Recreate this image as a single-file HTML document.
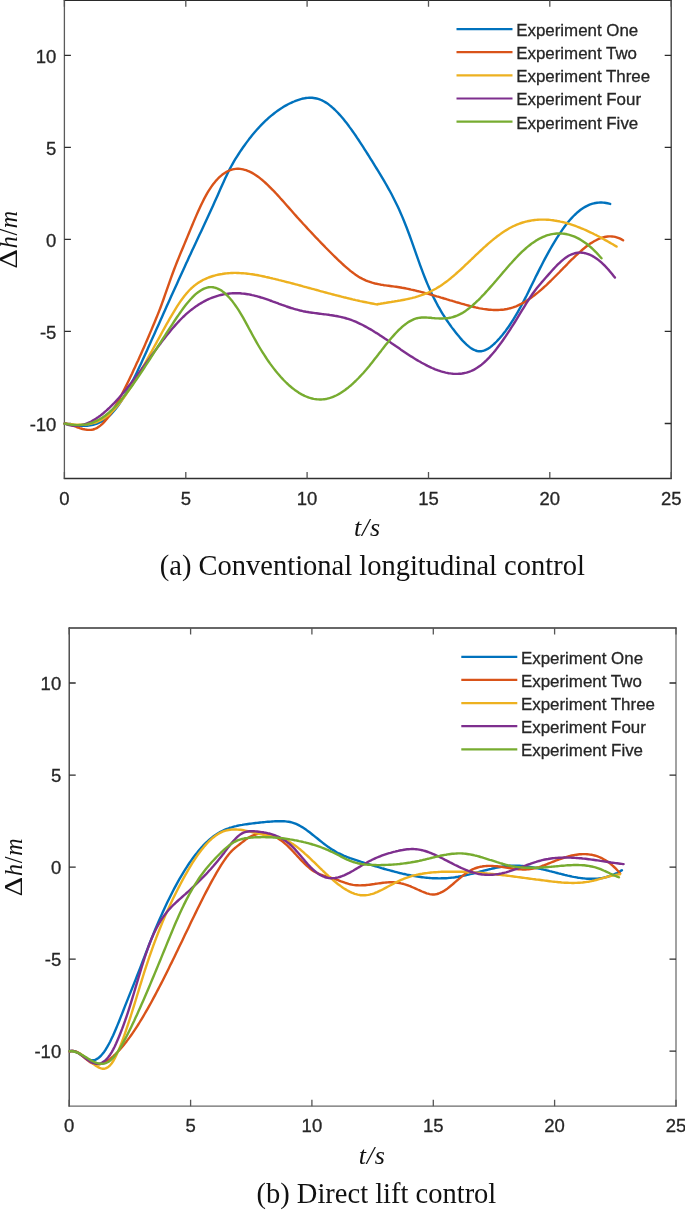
<!DOCTYPE html><html><head><meta charset="utf-8"><style>html,body{margin:0;padding:0;background:#fff;width:685px;height:1211px;overflow:hidden}svg{display:block}</style></head><body>
<svg width="685" height="1211" viewBox="0 0 685 1211">
<rect width="685" height="1211" fill="#fff"/>
<g><path d="M64.4,-0.3V479.1" stroke="#5a5a5a" stroke-width="1.3"/>
<path d="M671.2,-0.3V479.1" stroke="#353535" stroke-width="1.3"/>
<path d="M63.8,0.3H671.8" stroke="#2a2a2a" stroke-width="1.3"/>
<path d="M63.8,478.5H671.8" stroke="#303030" stroke-width="1.3"/>
<path d="M64.4,478.5V472.0M64.4,0.3V6.8M185.8,478.5V472.0M185.8,0.3V6.8M307.1,478.5V472.0M307.1,0.3V6.8M428.5,478.5V472.0M428.5,0.3V6.8M549.8,478.5V472.0M549.8,0.3V6.8M671.2,478.5V472.0M671.2,0.3V6.8" stroke="#555555" stroke-width="1.3" fill="none"/>
<path d="M64.4,423.5H70.9M671.2,423.5H664.7M64.4,331.4H70.9M671.2,331.4H664.7M64.4,239.4H70.9M671.2,239.4H664.7M64.4,147.4H70.9M671.2,147.4H664.7M64.4,55.3H70.9M671.2,55.3H664.7" stroke="#2c2c2c" stroke-width="1.3" fill="none"/>
<g font-family="Liberation Sans, Arial, sans-serif" font-size="18.5" fill="#262626" stroke="#262626" stroke-width="0.3">
<text x="64.4" y="504.7" text-anchor="middle">0</text>
<text x="185.8" y="504.7" text-anchor="middle">5</text>
<text x="307.1" y="504.7" text-anchor="middle">10</text>
<text x="428.5" y="504.7" text-anchor="middle">15</text>
<text x="549.8" y="504.7" text-anchor="middle">20</text>
<text x="671.2" y="504.7" text-anchor="middle">25</text>
<text x="56.4" y="430.7" text-anchor="end">-10</text>
<text x="56.4" y="338.6" text-anchor="end">-5</text>
<text x="56.4" y="246.6" text-anchor="end">0</text>
<text x="56.4" y="154.6" text-anchor="end">5</text>
<text x="56.4" y="62.5" text-anchor="end">10</text>
</g>
<g transform="translate(17.1,268.7) rotate(-90)" font-family="Liberation Serif, Times New Roman, serif" font-size="25.5" fill="#111"><text transform="scale(1.2,1)">Δ</text><text transform="translate(20.4,0) scale(0.94,1)" letter-spacing="0.8"><tspan font-style="italic">h</tspan>/<tspan font-style="italic">m</tspan></text></g>
<text x="367.5" y="536.0" text-anchor="middle" font-family="Liberation Serif, Times New Roman, serif" font-size="26" letter-spacing="0.8" font-style="italic" fill="#111">t/s</text>
<g font-family="Liberation Sans, Arial, sans-serif" font-size="16.9" fill="#262626">
<path d="M456.5,29.1H512.5" stroke="#0072BD" stroke-width="2.2"/>
<text x="516.2" y="35.9" stroke="#262626" stroke-width="0.3">Experiment One</text>
<path d="M456.5,52.2H512.5" stroke="#D95319" stroke-width="2.2"/>
<text x="516.2" y="59.0" stroke="#262626" stroke-width="0.3">Experiment Two</text>
<path d="M456.5,75.4H512.5" stroke="#EDB120" stroke-width="2.2"/>
<text x="516.2" y="82.2" stroke="#262626" stroke-width="0.3">Experiment Three</text>
<path d="M456.5,98.5H512.5" stroke="#7E2F8E" stroke-width="2.2"/>
<text x="516.2" y="105.3" stroke="#262626" stroke-width="0.3">Experiment Four</text>
<path d="M456.5,121.7H512.5" stroke="#77AC30" stroke-width="2.2"/>
<text x="516.2" y="128.5" stroke="#262626" stroke-width="0.3">Experiment Five</text>
</g></g>
<g fill="none" stroke-width="2.40" stroke-linejoin="round" stroke-linecap="round">
<path stroke="#0072BD" d="M64.6,423.6L66.1,423.8 67.6,424.1 69.1,424.3 70.6,424.6 72.1,424.8 73.6,425.0 75.1,425.2 76.6,425.4 78.1,425.5 79.6,425.7 81.1,425.7 82.6,425.8 84.1,425.8 85.6,425.8 87.1,425.7 88.6,425.5 90.1,425.3 91.6,425.1 93.1,424.8 94.6,424.4 96.1,423.9 97.6,423.3 99.1,422.7 100.6,422.0 102.1,421.2 103.6,420.2 105.1,419.2 106.6,418.1 108.1,416.9 109.6,415.6 111.1,414.1 112.6,412.5 114.1,410.8 115.6,409.0 117.1,407.1 118.6,405.0 120.1,402.8 121.6,400.5 123.1,398.1 124.6,395.6 126.1,393.1 127.6,390.4 129.1,387.7 130.6,384.8 132.1,381.9 133.6,379.0 135.1,376.0 136.6,372.9 138.1,369.7 139.6,366.6 141.1,363.4 142.6,360.1 144.1,356.8 145.6,353.5 147.1,350.2 148.6,346.8 150.1,343.5 151.6,340.1 153.1,336.8 154.6,333.4 156.1,330.1 157.6,326.7 159.1,323.4 160.6,320.0 162.1,316.7 163.6,313.3 165.1,310.0 166.6,306.6 168.1,303.3 169.6,300.0 171.1,296.6 172.6,293.3 174.1,290.0 175.6,286.7 177.1,283.4 178.6,280.1 180.1,276.8 181.6,273.5 183.1,270.2 184.6,266.9 186.1,263.6 187.6,260.4 189.1,257.1 190.6,253.9 192.1,250.6 193.6,247.4 195.1,244.2 196.6,241.0 198.1,237.8 199.6,234.6 201.1,231.4 202.6,228.2 204.1,225.0 205.6,221.7 207.1,218.5 208.6,215.3 210.1,212.0 211.6,208.7 213.1,205.4 214.6,202.1 216.1,198.8 217.6,195.4 219.1,192.0 220.6,188.6 222.1,185.2 223.6,181.9 225.1,178.6 226.6,175.4 228.1,172.3 229.6,169.4 231.1,166.5 232.6,163.8 234.1,161.2 235.6,158.7 237.1,156.3 238.6,154.0 240.1,151.7 241.6,149.5 243.1,147.3 244.6,145.2 246.1,143.1 247.6,141.1 249.1,139.1 250.6,137.2 252.1,135.3 253.6,133.5 255.1,131.7 256.6,130.0 258.1,128.4 259.6,126.7 261.1,125.1 262.6,123.6 264.1,122.1 265.6,120.7 267.1,119.3 268.6,117.9 270.1,116.6 271.6,115.4 273.1,114.2 274.6,113.0 276.1,111.9 277.6,110.8 279.1,109.7 280.6,108.7 282.1,107.8 283.6,106.8 285.1,105.9 286.6,105.1 288.1,104.3 289.6,103.5 291.1,102.8 292.6,102.1 294.1,101.5 295.6,100.8 297.1,100.3 298.6,99.8 300.1,99.3 301.6,98.9 303.1,98.5 304.6,98.3 306.1,98.0 307.6,97.9 309.1,97.8 310.6,97.8 312.1,97.8 313.6,98.0 315.1,98.2 316.6,98.5 318.1,98.9 319.6,99.4 321.1,100.0 322.6,100.7 324.1,101.5 325.6,102.4 327.1,103.3 328.6,104.4 330.1,105.6 331.6,106.8 333.1,108.1 334.6,109.5 336.1,111.0 337.6,112.5 339.1,114.1 340.6,115.8 342.1,117.5 343.6,119.3 345.1,121.2 346.6,123.1 348.1,125.0 349.6,127.1 351.1,129.1 352.6,131.2 354.1,133.4 355.6,135.5 357.1,137.8 358.6,140.0 360.1,142.3 361.6,144.6 363.1,146.9 364.6,149.3 366.1,151.6 367.6,154.0 369.1,156.4 370.6,158.8 372.1,161.2 373.6,163.7 375.1,166.1 376.6,168.5 378.1,170.9 379.6,173.4 381.1,175.9 382.6,178.4 384.1,180.9 385.6,183.5 387.1,186.1 388.6,188.8 390.1,191.5 391.6,194.3 393.1,197.2 394.6,200.2 396.1,203.2 397.6,206.3 399.1,209.6 400.6,212.9 402.1,216.4 403.6,220.0 405.1,223.7 406.6,227.5 408.1,231.5 409.6,235.5 411.1,239.7 412.6,243.9 414.1,248.1 415.6,252.4 417.1,256.7 418.6,260.9 420.1,265.1 421.6,269.2 423.1,273.2 424.6,277.0 426.1,280.8 427.6,284.4 429.1,287.8 430.6,291.2 432.1,294.4 433.6,297.5 435.1,300.4 436.6,303.3 438.1,306.1 439.6,308.7 441.1,311.3 442.6,313.8 444.1,316.2 445.6,318.5 447.1,320.7 448.6,322.9 450.1,325.0 451.6,327.1 453.1,329.1 454.6,331.0 456.1,332.9 457.6,334.8 459.1,336.6 460.6,338.4 462.1,340.1 463.6,341.7 465.1,343.2 466.6,344.6 468.1,345.9 469.6,347.1 471.1,348.2 472.6,349.1 474.1,349.9 475.6,350.5 477.1,351.0 478.6,351.2 480.1,351.3 481.6,351.2 483.1,350.8 484.6,350.4 486.1,349.7 487.6,348.9 489.1,347.9 490.6,346.9 492.1,345.7 493.6,344.4 495.1,343.0 496.6,341.5 498.1,339.9 499.6,338.3 501.1,336.5 502.6,334.7 504.1,332.8 505.6,330.9 507.1,328.8 508.6,326.7 510.1,324.5 511.6,322.2 513.1,319.8 514.6,317.4 516.1,314.9 517.6,312.3 519.1,309.7 520.6,307.0 522.1,304.2 523.6,301.3 525.1,298.4 526.6,295.5 528.1,292.4 529.6,289.4 531.1,286.3 532.6,283.3 534.1,280.2 535.6,277.1 537.1,274.1 538.6,271.1 540.1,268.1 541.6,265.2 543.1,262.3 544.6,259.4 546.1,256.6 547.6,253.9 549.1,251.2 550.6,248.5 552.1,245.9 553.6,243.4 555.1,240.9 556.6,238.4 558.1,236.1 559.6,233.8 561.1,231.6 562.6,229.4 564.1,227.3 565.6,225.3 567.1,223.4 568.6,221.5 570.1,219.8 571.6,218.1 573.1,216.5 574.6,215.0 576.1,213.6 577.6,212.2 579.1,211.0 580.6,209.8 582.1,208.8 583.6,207.8 585.1,206.9 586.6,206.1 588.1,205.4 589.6,204.7 591.1,204.2 592.6,203.7 594.1,203.3 595.6,203.0 597.1,202.8 598.6,202.6 600.1,202.5 601.6,202.5 603.1,202.6 604.6,202.7 606.1,203.0 607.6,203.3 609.1,203.6 610.2,203.9"/>
<path stroke="#D95319" d="M64.6,423.6L66.1,423.8 67.6,424.1 69.1,424.5 70.6,424.9 72.1,425.4 73.6,425.9 75.1,426.4 76.6,427.0 78.1,427.5 79.6,428.1 81.1,428.5 82.6,429.0 84.1,429.3 85.6,429.6 87.1,429.8 88.6,429.9 90.1,429.9 91.6,429.8 93.1,429.5 94.6,429.0 96.1,428.4 97.6,427.6 99.1,426.6 100.6,425.4 102.1,424.1 103.6,422.6 105.1,420.9 106.6,419.2 108.1,417.2 109.6,415.2 111.1,413.0 112.6,410.7 114.1,408.2 115.6,405.7 117.1,403.1 118.6,400.4 120.1,397.6 121.6,394.8 123.1,391.9 124.6,388.9 126.1,385.9 127.6,382.8 129.1,379.7 130.6,376.5 132.1,373.4 133.6,370.1 135.1,366.9 136.6,363.6 138.1,360.4 139.6,357.0 141.1,353.7 142.6,350.3 144.1,346.9 145.6,343.4 147.1,340.0 148.6,336.5 150.1,332.9 151.6,329.4 153.1,325.8 154.6,322.2 156.1,318.5 157.6,314.9 159.1,311.1 160.6,307.2 162.1,303.1 163.6,299.0 165.1,294.7 166.6,290.4 168.1,286.1 169.6,281.8 171.1,277.6 172.6,273.5 174.1,269.5 175.6,265.6 177.1,261.8 178.6,258.1 180.1,254.4 181.6,250.8 183.1,247.2 184.6,243.6 186.1,240.0 187.6,236.4 189.1,232.8 190.6,229.1 192.1,225.5 193.6,221.9 195.1,218.4 196.6,214.9 198.1,211.5 199.6,208.2 201.1,205.0 202.6,201.9 204.1,198.9 205.6,196.1 207.1,193.4 208.6,190.9 210.1,188.6 211.6,186.4 213.1,184.3 214.6,182.4 216.1,180.6 217.6,179.0 219.1,177.4 220.6,176.1 222.1,174.8 223.6,173.7 225.1,172.7 226.6,171.8 228.1,171.0 229.6,170.4 231.1,169.9 232.6,169.4 234.1,169.1 235.6,168.9 237.1,168.8 238.6,168.8 240.1,168.9 241.6,169.1 243.1,169.4 244.6,169.8 246.1,170.2 247.6,170.8 249.1,171.4 250.6,172.1 252.1,172.9 253.6,173.8 255.1,174.7 256.6,175.7 258.1,176.8 259.6,177.9 261.1,179.1 262.6,180.3 264.1,181.6 265.6,183.0 267.1,184.4 268.6,185.8 270.1,187.3 271.6,188.8 273.1,190.3 274.6,191.9 276.1,193.5 277.6,195.1 279.1,196.8 280.6,198.5 282.1,200.1 283.6,201.8 285.1,203.5 286.6,205.2 288.1,206.9 289.6,208.6 291.1,210.3 292.6,212.0 294.1,213.7 295.6,215.4 297.1,217.1 298.6,218.7 300.1,220.4 301.6,222.0 303.1,223.7 304.6,225.3 306.1,226.9 307.6,228.6 309.1,230.2 310.6,231.8 312.1,233.4 313.6,235.0 315.1,236.6 316.6,238.2 318.1,239.7 319.6,241.3 321.1,242.9 322.6,244.4 324.1,245.9 325.6,247.5 327.1,249.0 328.6,250.5 330.1,252.0 331.6,253.5 333.1,255.0 334.6,256.5 336.1,257.9 337.6,259.4 339.1,260.8 340.6,262.2 342.1,263.6 343.6,265.0 345.1,266.3 346.6,267.6 348.1,268.9 349.6,270.2 351.1,271.4 352.6,272.5 354.1,273.6 355.6,274.7 357.1,275.7 358.6,276.7 360.1,277.6 361.6,278.4 363.1,279.2 364.6,279.9 366.1,280.6 367.6,281.2 369.1,281.7 370.6,282.2 372.1,282.7 373.6,283.1 375.1,283.5 376.6,283.8 378.1,284.1 379.6,284.4 381.1,284.7 382.6,284.9 384.1,285.2 385.6,285.4 387.1,285.6 388.6,285.8 390.1,286.0 391.6,286.2 393.1,286.4 394.6,286.6 396.1,286.8 397.6,287.0 399.1,287.2 400.6,287.5 402.1,287.8 403.6,288.0 405.1,288.3 406.6,288.6 408.1,288.9 409.6,289.2 411.1,289.6 412.6,289.9 414.1,290.2 415.6,290.6 417.1,291.0 418.6,291.3 420.1,291.7 421.6,292.1 423.1,292.5 424.6,292.9 426.1,293.3 427.6,293.7 429.1,294.1 430.6,294.5 432.1,295.0 433.6,295.4 435.1,295.8 436.6,296.3 438.1,296.7 439.6,297.1 441.1,297.6 442.6,298.0 444.1,298.5 445.6,298.9 447.1,299.4 448.6,299.8 450.1,300.3 451.6,300.7 453.1,301.2 454.6,301.6 456.1,302.1 457.6,302.5 459.1,302.9 460.6,303.4 462.1,303.8 463.6,304.2 465.1,304.7 466.6,305.1 468.1,305.5 469.6,305.9 471.1,306.3 472.6,306.7 474.1,307.0 475.6,307.4 477.1,307.7 478.6,308.1 480.1,308.4 481.6,308.6 483.1,308.9 484.6,309.1 486.1,309.3 487.6,309.5 489.1,309.7 490.6,309.8 492.1,309.9 493.6,310.0 495.1,310.0 496.6,310.0 498.1,310.0 499.6,309.9 501.1,309.8 502.6,309.7 504.1,309.5 505.6,309.2 507.1,309.0 508.6,308.6 510.1,308.3 511.6,307.8 513.1,307.4 514.6,306.8 516.1,306.3 517.6,305.6 519.1,304.9 520.6,304.2 522.1,303.4 523.6,302.6 525.1,301.7 526.6,300.8 528.1,299.8 529.6,298.8 531.1,297.7 532.6,296.6 534.1,295.5 535.6,294.3 537.1,293.1 538.6,291.9 540.1,290.6 541.6,289.3 543.1,288.0 544.6,286.6 546.1,285.3 547.6,283.9 549.1,282.4 550.6,281.0 552.1,279.5 553.6,278.0 555.1,276.5 556.6,275.0 558.1,273.5 559.6,272.0 561.1,270.4 562.6,268.9 564.1,267.3 565.6,265.8 567.1,264.3 568.6,262.7 570.1,261.2 571.6,259.7 573.1,258.3 574.6,256.8 576.1,255.4 577.6,254.0 579.1,252.6 580.6,251.3 582.1,250.0 583.6,248.7 585.1,247.5 586.6,246.3 588.1,245.2 589.6,244.1 591.1,243.1 592.6,242.2 594.1,241.3 595.6,240.5 597.1,239.7 598.6,239.0 600.1,238.4 601.6,237.9 603.1,237.4 604.6,237.0 606.1,236.7 607.6,236.5 609.1,236.4 610.6,236.4 612.1,236.5 613.6,236.6 615.1,236.9 616.6,237.3 618.1,237.8 619.6,238.4 621.1,239.1 622.6,240.0 623.1,240.3"/>
<path stroke="#EDB120" d="M64.6,423.6L66.1,423.7 67.6,423.9 69.1,424.1 70.6,424.2 72.1,424.3 73.6,424.5 75.1,424.6 76.6,424.7 78.1,424.7 79.6,424.8 81.1,424.8 82.6,424.7 84.1,424.7 85.6,424.6 87.1,424.4 88.6,424.2 90.1,423.9 91.6,423.6 93.1,423.2 94.6,422.8 96.1,422.3 97.6,421.7 99.1,421.0 100.6,420.3 102.1,419.4 103.6,418.5 105.1,417.5 106.6,416.4 108.1,415.2 109.6,414.0 111.1,412.6 112.6,411.1 114.1,409.6 115.6,407.9 117.1,406.2 118.6,404.4 120.1,402.5 121.6,400.6 123.1,398.6 124.6,396.5 126.1,394.3 127.6,392.1 129.1,389.9 130.6,387.6 132.1,385.2 133.6,382.8 135.1,380.4 136.6,377.9 138.1,375.4 139.6,372.8 141.1,370.2 142.6,367.6 144.1,365.0 145.6,362.3 147.1,359.6 148.6,356.9 150.1,354.2 151.6,351.5 153.1,348.7 154.6,346.0 156.1,343.3 157.6,340.5 159.1,337.8 160.6,335.1 162.1,332.3 163.6,329.6 165.1,326.9 166.6,324.2 168.1,321.6 169.6,318.9 171.1,316.3 172.6,313.8 174.1,311.3 175.6,308.8 177.1,306.4 178.6,304.1 180.1,301.9 181.6,299.7 183.1,297.7 184.6,295.7 186.1,293.9 187.6,292.2 189.1,290.5 190.6,289.0 192.1,287.6 193.6,286.3 195.1,285.1 196.6,284.0 198.1,282.9 199.6,282.0 201.1,281.1 202.6,280.2 204.1,279.5 205.6,278.8 207.1,278.1 208.6,277.5 210.1,277.0 211.6,276.5 213.1,276.0 214.6,275.6 216.1,275.2 217.6,274.8 219.1,274.5 220.6,274.2 222.1,274.0 223.6,273.7 225.1,273.5 226.6,273.4 228.1,273.2 229.6,273.1 231.1,273.0 232.6,273.0 234.1,272.9 235.6,272.9 237.1,273.0 238.6,273.0 240.1,273.1 241.6,273.2 243.1,273.3 244.6,273.4 246.1,273.5 247.6,273.7 249.1,273.9 250.6,274.1 252.1,274.3 253.6,274.5 255.1,274.8 256.6,275.0 258.1,275.3 259.6,275.6 261.1,275.9 262.6,276.2 264.1,276.5 265.6,276.9 267.1,277.2 268.6,277.5 270.1,277.9 271.6,278.2 273.1,278.6 274.6,278.9 276.1,279.3 277.6,279.7 279.1,280.1 280.6,280.4 282.1,280.8 283.6,281.2 285.1,281.6 286.6,282.0 288.1,282.3 289.6,282.7 291.1,283.1 292.6,283.5 294.1,283.9 295.6,284.3 297.1,284.7 298.6,285.1 300.1,285.5 301.6,285.9 303.1,286.4 304.6,286.8 306.1,287.2 307.6,287.6 309.1,288.0 310.6,288.4 312.1,288.8 313.6,289.2 315.1,289.6 316.6,290.0 318.1,290.4 319.6,290.9 321.1,291.3 322.6,291.7 324.1,292.1 325.6,292.5 327.1,292.9 328.6,293.3 330.1,293.7 331.6,294.1 333.1,294.5 334.6,294.9 336.1,295.3 337.6,295.6 339.1,296.0 340.6,296.4 342.1,296.8 343.6,297.2 345.1,297.5 346.6,297.9 348.1,298.3 349.6,298.6 351.1,299.0 352.6,299.4 354.1,299.7 355.6,300.1 357.1,300.4 358.6,300.7 360.1,301.1 361.6,301.4 363.1,301.7 364.6,302.0 366.1,302.3 367.6,302.6 369.1,302.9 370.6,303.2 372.1,303.5 373.6,303.8 375.1,304.1 376.6,304.4 377.3,304.5 M377.3,304.3L378.8,304.0 380.3,303.8 381.8,303.5 383.3,303.3 384.8,303.0 386.3,302.8 387.8,302.5 389.3,302.3 390.8,302.1 392.3,301.8 393.8,301.6 395.3,301.3 396.8,301.1 398.3,300.8 399.8,300.6 401.3,300.3 402.8,300.0 404.3,299.7 405.8,299.4 407.3,299.1 408.8,298.8 410.3,298.4 411.8,298.1 413.3,297.7 414.8,297.3 416.3,296.8 417.8,296.4 419.3,295.9 420.8,295.4 422.3,294.9 423.8,294.3 425.3,293.7 426.8,293.1 428.3,292.5 429.8,291.8 431.3,291.1 432.8,290.3 434.3,289.5 435.8,288.7 437.3,287.8 438.8,286.9 440.3,286.0 441.8,285.0 443.3,283.9 444.8,282.8 446.3,281.7 447.8,280.6 449.3,279.4 450.8,278.2 452.3,276.9 453.8,275.7 455.3,274.4 456.8,273.0 458.3,271.7 459.8,270.3 461.3,269.0 462.8,267.6 464.3,266.2 465.8,264.7 467.3,263.3 468.8,261.9 470.3,260.5 471.8,259.0 473.3,257.6 474.8,256.2 476.3,254.7 477.8,253.3 479.3,251.9 480.8,250.5 482.3,249.1 483.8,247.7 485.3,246.4 486.8,245.0 488.3,243.7 489.8,242.4 491.3,241.1 492.8,239.9 494.3,238.6 495.8,237.5 497.3,236.3 498.8,235.2 500.3,234.1 501.8,233.0 503.3,232.0 504.8,231.0 506.3,230.1 507.8,229.2 509.3,228.3 510.8,227.5 512.3,226.7 513.8,226.0 515.3,225.3 516.8,224.7 518.3,224.1 519.8,223.5 521.3,223.0 522.8,222.5 524.3,222.1 525.8,221.7 527.3,221.3 528.8,221.0 530.3,220.7 531.8,220.4 533.3,220.2 534.8,220.0 536.3,219.9 537.8,219.7 539.3,219.6 540.8,219.6 542.3,219.6 543.8,219.6 545.3,219.6 546.8,219.7 548.3,219.8 549.8,219.9 551.3,220.1 552.8,220.2 554.3,220.5 555.8,220.7 557.3,221.0 558.8,221.2 560.3,221.6 561.8,221.9 563.3,222.2 564.8,222.6 566.3,223.0 567.8,223.5 569.3,223.9 570.8,224.4 572.3,224.9 573.8,225.4 575.3,225.9 576.8,226.5 578.3,227.1 579.8,227.7 581.3,228.3 582.8,228.9 584.3,229.5 585.8,230.2 587.3,230.9 588.8,231.6 590.3,232.3 591.8,233.0 593.3,233.7 594.8,234.5 596.3,235.2 597.8,236.0 599.3,236.8 600.8,237.6 602.3,238.4 603.8,239.2 605.3,240.1 606.8,240.9 608.3,241.7 609.8,242.6 611.3,243.5 612.8,244.3 614.3,245.2 615.8,246.1 616.6,246.6"/>
<path stroke="#7E2F8E" d="M64.6,423.5L66.1,424.1 67.6,424.6 69.1,425.0 70.6,425.3 72.1,425.5 73.6,425.7 75.1,425.7 76.6,425.7 78.1,425.6 79.6,425.4 81.1,425.1 82.6,424.8 84.1,424.4 85.6,423.9 87.1,423.3 88.6,422.7 90.1,422.0 91.6,421.3 93.1,420.4 94.6,419.5 96.1,418.6 97.6,417.6 99.1,416.5 100.6,415.4 102.1,414.2 103.6,413.0 105.1,411.7 106.6,410.4 108.1,409.0 109.6,407.6 111.1,406.1 112.6,404.6 114.1,403.1 115.6,401.5 117.1,399.9 118.6,398.2 120.1,396.5 121.6,394.8 123.1,393.0 124.6,391.2 126.1,389.4 127.6,387.5 129.1,385.6 130.6,383.7 132.1,381.8 133.6,379.9 135.1,377.9 136.6,375.9 138.1,373.9 139.6,371.9 141.1,369.9 142.6,367.8 144.1,365.8 145.6,363.7 147.1,361.7 148.6,359.6 150.1,357.6 151.6,355.5 153.1,353.4 154.6,351.4 156.1,349.4 157.6,347.4 159.1,345.3 160.6,343.4 162.1,341.4 163.6,339.4 165.1,337.5 166.6,335.6 168.1,333.7 169.6,331.9 171.1,330.1 172.6,328.3 174.1,326.6 175.6,324.9 177.1,323.2 178.6,321.6 180.1,320.0 181.6,318.5 183.1,317.0 184.6,315.6 186.1,314.2 187.6,312.9 189.1,311.6 190.6,310.4 192.1,309.2 193.6,308.1 195.1,307.0 196.6,305.9 198.1,304.9 199.6,304.0 201.1,303.1 202.6,302.2 204.1,301.4 205.6,300.6 207.1,299.8 208.6,299.1 210.1,298.5 211.6,297.9 213.1,297.3 214.6,296.8 216.1,296.3 217.6,295.8 219.1,295.4 220.6,295.0 222.1,294.7 223.6,294.4 225.1,294.1 226.6,293.9 228.1,293.7 229.6,293.5 231.1,293.4 232.6,293.3 234.1,293.2 235.6,293.2 237.1,293.2 238.6,293.3 240.1,293.3 241.6,293.5 243.1,293.6 244.6,293.8 246.1,294.0 247.6,294.2 249.1,294.4 250.6,294.7 252.1,295.1 253.6,295.4 255.1,295.8 256.6,296.2 258.1,296.6 259.6,297.0 261.1,297.5 262.6,297.9 264.1,298.4 265.6,298.9 267.1,299.4 268.6,299.9 270.1,300.5 271.6,301.0 273.1,301.6 274.6,302.1 276.1,302.7 277.6,303.2 279.1,303.8 280.6,304.3 282.1,304.9 283.6,305.4 285.1,305.9 286.6,306.5 288.1,307.0 289.6,307.5 291.1,308.0 292.6,308.4 294.1,308.9 295.6,309.3 297.1,309.7 298.6,310.1 300.1,310.5 301.6,310.8 303.1,311.2 304.6,311.5 306.1,311.8 307.6,312.0 309.1,312.3 310.6,312.5 312.1,312.7 313.6,312.9 315.1,313.1 316.6,313.3 318.1,313.5 319.6,313.7 321.1,313.9 322.6,314.1 324.1,314.3 325.6,314.4 327.1,314.6 328.6,314.8 330.1,315.1 331.6,315.3 333.1,315.5 334.6,315.8 336.1,316.0 337.6,316.3 339.1,316.6 340.6,316.9 342.1,317.3 343.6,317.6 345.1,318.0 346.6,318.5 348.1,318.9 349.6,319.4 351.1,319.9 352.6,320.5 354.1,321.1 355.6,321.7 357.1,322.4 358.6,323.1 360.1,323.8 361.6,324.5 363.1,325.3 364.6,326.1 366.1,326.9 367.6,327.7 369.1,328.6 370.6,329.4 372.1,330.3 373.6,331.2 375.1,332.2 376.6,333.1 378.1,334.1 379.6,335.1 381.1,336.0 382.6,337.0 384.1,338.0 385.6,339.1 387.1,340.1 388.6,341.1 390.1,342.1 391.6,343.2 393.1,344.2 394.6,345.2 396.1,346.3 397.6,347.3 399.1,348.3 400.6,349.4 402.1,350.4 403.6,351.4 405.1,352.4 406.6,353.4 408.1,354.4 409.6,355.4 411.1,356.4 412.6,357.3 414.1,358.3 415.6,359.2 417.1,360.1 418.6,361.0 420.1,361.8 421.6,362.7 423.1,363.5 424.6,364.3 426.1,365.1 427.6,365.9 429.1,366.6 430.6,367.3 432.1,368.0 433.6,368.6 435.1,369.3 436.6,369.8 438.1,370.4 439.6,370.9 441.1,371.4 442.6,371.8 444.1,372.2 445.6,372.6 447.1,372.9 448.6,373.2 450.1,373.4 451.6,373.6 453.1,373.8 454.6,373.9 456.1,373.9 457.6,373.9 459.1,373.8 460.6,373.7 462.1,373.5 463.6,373.2 465.1,372.9 466.6,372.6 468.1,372.1 469.6,371.6 471.1,371.0 472.6,370.3 474.1,369.6 475.6,368.7 477.1,367.8 478.6,366.8 480.1,365.8 481.6,364.6 483.1,363.3 484.6,362.0 486.1,360.6 487.6,359.1 489.1,357.6 490.6,355.9 492.1,354.2 493.6,352.5 495.1,350.7 496.6,348.8 498.1,346.8 499.6,344.8 501.1,342.8 502.6,340.7 504.1,338.5 505.6,336.4 507.1,334.1 508.6,331.9 510.1,329.6 511.6,327.2 513.1,324.9 514.6,322.5 516.1,320.1 517.6,317.6 519.1,315.2 520.6,312.7 522.1,310.2 523.6,307.8 525.1,305.3 526.6,302.9 528.1,300.5 529.6,298.2 531.1,296.0 532.6,293.8 534.1,291.7 535.6,289.7 537.1,287.8 538.6,286.0 540.1,284.2 541.6,282.4 543.1,280.7 544.6,279.0 546.1,277.3 547.6,275.6 549.1,273.9 550.6,272.2 552.1,270.5 553.6,268.9 555.1,267.3 556.6,265.7 558.1,264.2 559.6,262.8 561.1,261.4 562.6,260.1 564.1,258.9 565.6,257.8 567.1,256.8 568.6,255.8 570.1,255.0 571.6,254.4 573.1,253.8 574.6,253.3 576.1,253.0 577.6,252.8 579.1,252.6 580.6,252.6 582.1,252.7 583.6,252.9 585.1,253.2 586.6,253.6 588.1,254.1 589.6,254.7 591.1,255.3 592.6,256.1 594.1,257.0 595.6,258.0 597.1,259.0 598.6,260.1 600.1,261.4 601.6,262.7 603.1,264.1 604.6,265.5 606.1,267.1 607.6,268.7 609.1,270.4 610.6,272.2 612.1,274.0 613.6,275.9 614.9,277.6"/>
<path stroke="#77AC30" d="M64.6,423.6L66.1,423.9 67.6,424.2 69.1,424.4 70.6,424.6 72.1,424.8 73.6,424.9 75.1,425.0 76.6,425.1 78.1,425.1 79.6,425.0 81.1,424.9 82.6,424.8 84.1,424.6 85.6,424.4 87.1,424.1 88.6,423.7 90.1,423.3 91.6,422.8 93.1,422.3 94.6,421.7 96.1,421.0 97.6,420.3 99.1,419.5 100.6,418.7 102.1,417.7 103.6,416.7 105.1,415.7 106.6,414.5 108.1,413.3 109.6,412.0 111.1,410.6 112.6,409.2 114.1,407.7 115.6,406.2 117.1,404.6 118.6,402.9 120.1,401.2 121.6,399.4 123.1,397.6 124.6,395.7 126.1,393.8 127.6,391.8 129.1,389.8 130.6,387.8 132.1,385.7 133.6,383.6 135.1,381.4 136.6,379.3 138.1,377.1 139.6,374.8 141.1,372.6 142.6,370.3 144.1,368.0 145.6,365.7 147.1,363.4 148.6,361.1 150.1,358.8 151.6,356.4 153.1,354.1 154.6,351.7 156.1,349.4 157.6,347.0 159.1,344.7 160.6,342.3 162.1,340.0 163.6,337.6 165.1,335.3 166.6,333.0 168.1,330.7 169.6,328.4 171.1,326.1 172.6,323.8 174.1,321.5 175.6,319.3 177.1,317.0 178.6,314.9 180.1,312.7 181.6,310.6 183.1,308.5 184.6,306.5 186.1,304.6 187.6,302.7 189.1,301.0 190.6,299.3 192.1,297.7 193.6,296.2 195.1,294.7 196.6,293.4 198.1,292.2 199.6,291.2 201.1,290.2 202.6,289.4 204.1,288.6 205.6,288.1 207.1,287.6 208.6,287.3 210.1,287.1 211.6,287.1 213.1,287.3 214.6,287.6 216.1,288.0 217.6,288.6 219.1,289.3 220.6,290.1 222.1,291.1 223.6,292.2 225.1,293.5 226.6,294.9 228.1,296.4 229.6,298.0 231.1,299.8 232.6,301.6 234.1,303.6 235.6,305.7 237.1,307.9 238.6,310.2 240.1,312.6 241.6,315.1 243.1,317.7 244.6,320.4 246.1,323.1 247.6,325.9 249.1,328.7 250.6,331.4 252.1,334.2 253.6,337.0 255.1,339.7 256.6,342.4 258.1,345.0 259.6,347.5 261.1,350.0 262.6,352.4 264.1,354.7 265.6,357.0 267.1,359.3 268.6,361.5 270.1,363.6 271.6,365.6 273.1,367.6 274.6,369.6 276.1,371.5 277.6,373.3 279.1,375.0 280.6,376.8 282.1,378.4 283.6,380.0 285.1,381.5 286.6,383.0 288.1,384.4 289.6,385.8 291.1,387.0 292.6,388.3 294.1,389.4 295.6,390.6 297.1,391.6 298.6,392.6 300.1,393.5 301.6,394.4 303.1,395.1 304.6,395.9 306.1,396.5 307.6,397.1 309.1,397.7 310.6,398.1 312.1,398.5 313.6,398.9 315.1,399.1 316.6,399.3 318.1,399.4 319.6,399.5 321.1,399.5 322.6,399.4 324.1,399.2 325.6,399.0 327.1,398.7 328.6,398.3 330.1,397.9 331.6,397.4 333.1,396.8 334.6,396.2 336.1,395.5 337.6,394.7 339.1,393.9 340.6,393.0 342.1,392.0 343.6,391.0 345.1,390.0 346.6,388.8 348.1,387.7 349.6,386.4 351.1,385.2 352.6,383.8 354.1,382.4 355.6,381.0 357.1,379.5 358.6,378.0 360.1,376.4 361.6,374.8 363.1,373.2 364.6,371.5 366.1,369.8 367.6,368.0 369.1,366.2 370.6,364.3 372.1,362.4 373.6,360.5 375.1,358.6 376.6,356.7 378.1,354.8 379.6,352.8 381.1,350.9 382.6,348.9 384.1,347.0 385.6,345.1 387.1,343.2 388.6,341.4 390.1,339.6 391.6,337.8 393.1,336.1 394.6,334.4 396.1,332.8 397.6,331.2 399.1,329.7 400.6,328.3 402.1,326.9 403.6,325.6 405.1,324.5 406.6,323.4 408.1,322.3 409.6,321.4 411.1,320.6 412.6,319.9 414.1,319.2 415.6,318.7 417.1,318.2 418.6,317.9 420.1,317.7 421.6,317.5 423.1,317.5 424.6,317.4 426.1,317.5 427.6,317.6 429.1,317.7 430.6,317.8 432.1,318.0 433.6,318.1 435.1,318.3 436.6,318.4 438.1,318.4 439.6,318.5 441.1,318.5 442.6,318.5 444.1,318.4 445.6,318.3 447.1,318.2 448.6,318.0 450.1,317.7 451.6,317.4 453.1,317.0 454.6,316.5 456.1,316.0 457.6,315.4 459.1,314.7 460.6,313.9 462.1,313.1 463.6,312.2 465.1,311.2 466.6,310.1 468.1,309.0 469.6,307.9 471.1,306.6 472.6,305.4 474.1,304.0 475.6,302.7 477.1,301.2 478.6,299.8 480.1,298.3 481.6,296.7 483.1,295.2 484.6,293.6 486.1,291.9 487.6,290.3 489.1,288.6 490.6,286.9 492.1,285.2 493.6,283.5 495.1,281.7 496.6,280.0 498.1,278.2 499.6,276.5 501.1,274.7 502.6,272.9 504.1,271.2 505.6,269.5 507.1,267.7 508.6,266.0 510.1,264.3 511.6,262.7 513.1,261.0 514.6,259.4 516.1,257.8 517.6,256.2 519.1,254.7 520.6,253.2 522.1,251.7 523.6,250.3 525.1,249.0 526.6,247.6 528.1,246.4 529.6,245.2 531.1,244.0 532.6,242.9 534.1,241.9 535.6,240.9 537.1,240.0 538.6,239.1 540.1,238.3 541.6,237.6 543.1,236.9 544.6,236.3 546.1,235.7 547.6,235.2 549.1,234.8 550.6,234.4 552.1,234.1 553.6,233.9 555.1,233.7 556.6,233.5 558.1,233.5 559.6,233.4 561.1,233.5 562.6,233.6 564.1,233.8 565.6,234.0 567.1,234.3 568.6,234.7 570.1,235.1 571.6,235.6 573.1,236.1 574.6,236.7 576.1,237.4 577.6,238.1 579.1,238.9 580.6,239.8 582.1,240.7 583.6,241.7 585.1,242.7 586.6,243.8 588.1,245.0 589.6,246.3 591.1,247.5 592.6,248.9 594.1,250.3 595.6,251.8 597.1,253.4 598.6,255.0 600.1,256.7 601.5,258.3"/>
</g>
<text x="159.8" y="574.6" font-family="Liberation Serif, Times New Roman, serif" font-size="28.5" fill="#111">(a) Conventional longitudinal control</text>
<g transform="translate(4.8,627.7)"><path d="M64.4,-0.3V479.1" stroke="#353535" stroke-width="1.3"/>
<path d="M671.2,-0.3V479.1" stroke="#707070" stroke-width="1.3"/>
<path d="M63.8,0.3H671.8" stroke="#353535" stroke-width="1.3"/>
<path d="M63.8,478.5H671.8" stroke="#6a6a6a" stroke-width="1.3"/>
<path d="M64.4,478.5V472.0M64.4,0.3V6.8M185.8,478.5V472.0M185.8,0.3V6.8M307.1,478.5V472.0M307.1,0.3V6.8M428.5,478.5V472.0M428.5,0.3V6.8M549.8,478.5V472.0M549.8,0.3V6.8M671.2,478.5V472.0M671.2,0.3V6.8" stroke="#555555" stroke-width="1.3" fill="none"/>
<path d="M64.4,423.5H70.9M671.2,423.5H664.7M64.4,331.4H70.9M671.2,331.4H664.7M64.4,239.4H70.9M671.2,239.4H664.7M64.4,147.4H70.9M671.2,147.4H664.7M64.4,55.3H70.9M671.2,55.3H664.7" stroke="#2c2c2c" stroke-width="1.3" fill="none"/>
<g font-family="Liberation Sans, Arial, sans-serif" font-size="18.5" fill="#262626" stroke="#262626" stroke-width="0.3">
<text x="64.4" y="504.7" text-anchor="middle">0</text>
<text x="185.8" y="504.7" text-anchor="middle">5</text>
<text x="307.1" y="504.7" text-anchor="middle">10</text>
<text x="428.5" y="504.7" text-anchor="middle">15</text>
<text x="549.8" y="504.7" text-anchor="middle">20</text>
<text x="671.2" y="504.7" text-anchor="middle">25</text>
<text x="56.4" y="430.7" text-anchor="end">-10</text>
<text x="56.4" y="338.6" text-anchor="end">-5</text>
<text x="56.4" y="246.6" text-anchor="end">0</text>
<text x="56.4" y="154.6" text-anchor="end">5</text>
<text x="56.4" y="62.5" text-anchor="end">10</text>
</g>
<g transform="translate(17.1,268.7) rotate(-90)" font-family="Liberation Serif, Times New Roman, serif" font-size="25.5" fill="#111"><text transform="scale(1.2,1)">Δ</text><text transform="translate(20.4,0) scale(0.94,1)" letter-spacing="0.8"><tspan font-style="italic">h</tspan>/<tspan font-style="italic">m</tspan></text></g>
<text x="367.5" y="536.0" text-anchor="middle" font-family="Liberation Serif, Times New Roman, serif" font-size="26" letter-spacing="0.8" font-style="italic" fill="#111">t/s</text>
<g font-family="Liberation Sans, Arial, sans-serif" font-size="16.9" fill="#262626">
<path d="M456.5,29.1H512.5" stroke="#0072BD" stroke-width="2.2"/>
<text x="516.2" y="35.9" stroke="#262626" stroke-width="0.3">Experiment One</text>
<path d="M456.5,52.2H512.5" stroke="#D95319" stroke-width="2.2"/>
<text x="516.2" y="59.0" stroke="#262626" stroke-width="0.3">Experiment Two</text>
<path d="M456.5,75.4H512.5" stroke="#EDB120" stroke-width="2.2"/>
<text x="516.2" y="82.2" stroke="#262626" stroke-width="0.3">Experiment Three</text>
<path d="M456.5,98.5H512.5" stroke="#7E2F8E" stroke-width="2.2"/>
<text x="516.2" y="105.3" stroke="#262626" stroke-width="0.3">Experiment Four</text>
<path d="M456.5,121.7H512.5" stroke="#77AC30" stroke-width="2.2"/>
<text x="516.2" y="128.5" stroke="#262626" stroke-width="0.3">Experiment Five</text>
</g></g>
<g fill="none" stroke-width="2.40" stroke-linejoin="round" stroke-linecap="round">
<path stroke="#0072BD" d="M69.6,1051.3L71.1,1051.0 72.6,1051.0 74.1,1051.3 75.6,1051.8 77.1,1052.5 78.6,1053.3 80.1,1054.2 81.6,1055.2 83.1,1056.3 84.6,1057.2 86.1,1058.2 87.6,1059.0 89.1,1059.6 90.6,1060.1 92.1,1060.3 93.6,1060.2 95.1,1059.8 96.6,1059.1 98.1,1058.2 99.6,1057.0 101.1,1055.6 102.6,1053.8 104.1,1051.9 105.6,1049.7 107.1,1047.2 108.6,1044.5 110.1,1041.7 111.6,1038.6 113.1,1035.4 114.6,1032.0 116.1,1028.5 117.6,1024.9 119.1,1021.2 120.6,1017.4 122.1,1013.6 123.6,1009.8 125.1,1005.9 126.6,1002.1 128.1,998.4 129.6,994.6 131.1,990.9 132.6,987.1 134.1,983.4 135.6,979.6 137.1,975.8 138.6,972.0 140.1,968.1 141.6,964.2 143.1,960.3 144.6,956.4 146.1,952.5 147.6,948.6 149.1,944.7 150.6,940.9 152.1,937.2 153.6,933.5 155.1,929.8 156.6,926.2 158.1,922.7 159.6,919.3 161.1,915.9 162.6,912.5 164.1,909.2 165.6,906.0 167.1,902.8 168.6,899.7 170.1,896.7 171.6,893.7 173.1,890.8 174.6,887.9 176.1,885.1 177.6,882.4 179.1,879.7 180.6,877.1 182.1,874.6 183.6,872.1 185.1,869.7 186.6,867.3 188.1,865.0 189.6,862.8 191.1,860.6 192.6,858.5 194.1,856.5 195.6,854.5 197.1,852.7 198.6,850.8 200.1,849.1 201.6,847.4 203.1,845.7 204.6,844.2 206.1,842.7 207.6,841.3 209.1,839.9 210.6,838.6 212.1,837.4 213.6,836.3 215.1,835.2 216.6,834.2 218.1,833.2 219.6,832.4 221.1,831.5 222.6,830.8 224.1,830.1 225.6,829.4 227.1,828.8 228.6,828.3 230.1,827.7 231.6,827.3 233.1,826.8 234.6,826.4 236.1,826.1 237.6,825.7 239.1,825.4 240.6,825.1 242.1,824.9 243.6,824.6 245.1,824.4 246.6,824.2 248.1,824.0 249.6,823.8 251.1,823.6 252.6,823.4 254.1,823.2 255.6,823.0 257.1,822.9 258.6,822.7 260.1,822.5 261.6,822.4 263.1,822.2 264.6,822.1 266.1,821.9 267.6,821.8 269.1,821.7 270.6,821.6 272.1,821.5 273.6,821.4 275.1,821.3 276.6,821.3 278.1,821.2 279.6,821.2 281.1,821.2 282.6,821.2 284.1,821.3 285.6,821.4 287.1,821.6 288.6,821.8 290.1,822.0 291.6,822.4 293.1,822.8 294.6,823.3 296.1,823.9 297.6,824.6 299.1,825.4 300.6,826.2 302.1,827.1 303.6,828.1 305.1,829.1 306.6,830.1 308.1,831.2 309.6,832.3 311.1,833.5 312.6,834.7 314.1,835.9 315.6,837.1 317.1,838.3 318.6,839.5 320.1,840.7 321.6,841.9 323.1,843.1 324.6,844.3 326.1,845.4 327.6,846.5 329.1,847.5 330.6,848.6 332.1,849.5 333.6,850.4 335.1,851.3 336.6,852.2 338.1,853.0 339.6,853.7 341.1,854.4 342.6,855.1 344.1,855.8 345.6,856.4 347.1,857.0 348.6,857.6 350.1,858.2 351.6,858.7 353.1,859.2 354.6,859.7 356.1,860.2 357.6,860.7 359.1,861.2 360.6,861.7 362.1,862.1 363.6,862.6 365.1,863.1 366.6,863.5 368.1,864.0 369.6,864.5 371.1,864.9 372.6,865.4 374.1,865.8 375.6,866.3 377.1,866.7 378.6,867.2 380.1,867.6 381.6,868.1 383.1,868.5 384.6,869.0 386.1,869.4 387.6,869.8 389.1,870.2 390.6,870.6 392.1,871.0 393.6,871.4 395.1,871.8 396.6,872.2 398.1,872.6 399.6,873.0 401.1,873.3 402.6,873.7 404.1,874.0 405.6,874.3 407.1,874.7 408.6,875.0 410.1,875.3 411.6,875.6 413.1,875.8 414.6,876.1 416.1,876.3 417.6,876.6 419.1,876.8 420.6,877.0 422.1,877.2 423.6,877.4 425.1,877.6 426.6,877.7 428.1,877.9 429.6,878.0 431.1,878.1 432.6,878.2 434.1,878.2 435.6,878.3 437.1,878.3 438.6,878.4 440.1,878.4 441.6,878.3 443.1,878.3 444.6,878.2 446.1,878.2 447.6,878.1 449.1,877.9 450.6,877.8 452.1,877.6 453.6,877.5 455.1,877.3 456.6,877.0 458.1,876.8 459.6,876.5 461.1,876.2 462.6,875.9 464.1,875.6 465.6,875.3 467.1,874.9 468.6,874.6 470.1,874.2 471.6,873.8 473.1,873.5 474.6,873.1 476.1,872.7 477.6,872.3 479.1,871.9 480.6,871.5 482.1,871.1 483.6,870.7 485.1,870.3 486.6,870.0 488.1,869.6 489.6,869.2 491.1,868.9 492.6,868.5 494.1,868.2 495.6,867.9 497.1,867.6 498.6,867.3 500.1,867.0 501.6,866.8 503.1,866.5 504.6,866.3 506.1,866.2 507.6,866.0 509.1,865.9 510.6,865.8 512.1,865.7 513.6,865.7 515.1,865.6 516.6,865.7 518.1,865.7 519.6,865.8 521.1,865.9 522.6,866.0 524.1,866.1 525.6,866.3 527.1,866.5 528.6,866.7 530.1,866.9 531.6,867.1 533.1,867.4 534.6,867.7 536.1,868.0 537.6,868.3 539.1,868.6 540.6,868.9 542.1,869.2 543.6,869.6 545.1,869.9 546.6,870.3 548.1,870.7 549.6,871.1 551.1,871.4 552.6,871.8 554.1,872.2 555.6,872.6 557.1,873.0 558.6,873.4 560.1,873.7 561.6,874.1 563.1,874.5 564.6,874.9 566.1,875.2 567.6,875.6 569.1,875.9 570.6,876.2 572.1,876.6 573.6,876.9 575.1,877.1 576.6,877.4 578.1,877.7 579.6,877.9 581.1,878.1 582.6,878.3 584.1,878.4 585.6,878.6 587.1,878.7 588.6,878.8 590.1,878.8 591.6,878.8 593.1,878.8 594.6,878.8 596.1,878.7 597.6,878.6 599.1,878.4 600.6,878.2 602.1,878.0 603.6,877.7 605.1,877.3 606.6,877.0 608.1,876.5 609.6,876.1 611.1,875.6 612.6,875.0 614.1,874.4 615.6,873.7 617.1,873.0 618.6,872.2 620.1,871.3 621.6,870.4 621.9,870.2"/>
<path stroke="#D95319" d="M69.6,1051.4L71.1,1051.0 72.6,1050.9 74.1,1051.1 75.6,1051.6 77.1,1052.3 78.6,1053.2 80.1,1054.2 81.6,1055.3 83.1,1056.6 84.6,1057.8 86.1,1059.1 87.6,1060.3 89.1,1061.4 90.6,1062.4 92.1,1063.2 93.6,1063.8 95.1,1064.2 96.6,1064.4 98.1,1064.4 99.6,1064.2 101.1,1063.9 102.6,1063.4 104.1,1062.8 105.6,1062.0 107.1,1061.1 108.6,1060.0 110.1,1058.9 111.6,1057.7 113.1,1056.4 114.6,1055.0 116.1,1053.5 117.6,1052.0 119.1,1050.4 120.6,1048.7 122.1,1047.0 123.6,1045.2 125.1,1043.3 126.6,1041.4 128.1,1039.4 129.6,1037.4 131.1,1035.3 132.6,1033.1 134.1,1030.9 135.6,1028.6 137.1,1026.3 138.6,1024.0 140.1,1021.5 141.6,1019.1 143.1,1016.6 144.6,1014.0 146.1,1011.4 147.6,1008.8 149.1,1006.2 150.6,1003.5 152.1,1000.7 153.6,997.9 155.1,995.1 156.6,992.3 158.1,989.4 159.6,986.5 161.1,983.6 162.6,980.7 164.1,977.7 165.6,974.7 167.1,971.7 168.6,968.7 170.1,965.6 171.6,962.6 173.1,959.5 174.6,956.4 176.1,953.3 177.6,950.2 179.1,947.1 180.6,944.0 182.1,940.9 183.6,937.8 185.1,934.6 186.6,931.5 188.1,928.4 189.6,925.3 191.1,922.1 192.6,919.0 194.1,915.9 195.6,912.9 197.1,909.8 198.6,906.8 200.1,903.7 201.6,900.7 203.1,897.8 204.6,894.8 206.1,891.9 207.6,889.1 209.1,886.2 210.6,883.4 212.1,880.7 213.6,878.0 215.1,875.3 216.6,872.7 218.1,870.2 219.6,867.7 221.1,865.2 222.6,862.9 224.1,860.6 225.6,858.5 227.1,856.4 228.6,854.5 230.1,852.8 231.6,851.1 233.1,849.7 234.6,848.3 236.1,847.1 237.6,845.9 239.1,844.7 240.6,843.5 242.1,842.4 243.6,841.2 245.1,840.0 246.6,838.9 248.1,837.9 249.6,837.1 251.1,836.3 252.6,835.6 254.1,835.0 255.6,834.5 257.1,834.1 258.6,833.8 260.1,833.6 261.6,833.5 263.1,833.5 264.6,833.6 266.1,833.8 267.6,834.1 269.1,834.4 270.6,834.9 272.1,835.4 273.6,836.0 275.1,836.7 276.6,837.5 278.1,838.4 279.6,839.4 281.1,840.4 282.6,841.6 284.1,842.8 285.6,844.1 287.1,845.4 288.6,846.9 290.1,848.4 291.6,849.9 293.1,851.5 294.6,853.1 296.1,854.7 297.6,856.4 299.1,858.0 300.6,859.6 302.1,861.2 303.6,862.7 305.1,864.2 306.6,865.6 308.1,866.9 309.6,868.2 311.1,869.4 312.6,870.4 314.1,871.4 315.6,872.2 317.1,873.0 318.6,873.7 320.1,874.3 321.6,874.8 323.1,875.4 324.6,875.9 326.1,876.3 327.6,876.8 329.1,877.2 330.6,877.7 332.1,878.1 333.6,878.6 335.1,879.1 336.6,879.7 338.1,880.2 339.6,880.8 341.1,881.4 342.6,881.9 344.1,882.4 345.6,883.0 347.1,883.4 348.6,883.9 350.1,884.3 351.6,884.6 353.1,884.9 354.6,885.1 356.1,885.2 357.6,885.3 359.1,885.4 360.6,885.4 362.1,885.3 363.6,885.3 365.1,885.2 366.6,885.0 368.1,884.9 369.6,884.7 371.1,884.5 372.6,884.3 374.1,884.1 375.6,883.8 377.1,883.6 378.6,883.4 380.1,883.2 381.6,883.0 383.1,882.8 384.6,882.6 386.1,882.5 387.6,882.4 389.1,882.3 390.6,882.3 392.1,882.3 393.6,882.3 395.1,882.4 396.6,882.6 398.1,882.8 399.6,883.0 401.1,883.4 402.6,883.7 404.1,884.2 405.6,884.6 407.1,885.1 408.6,885.7 410.1,886.2 411.6,886.9 413.1,887.5 414.6,888.1 416.1,888.8 417.6,889.5 419.1,890.1 420.6,890.8 422.1,891.5 423.6,892.1 425.1,892.7 426.6,893.3 428.1,893.7 429.6,894.1 431.1,894.4 432.6,894.5 434.1,894.5 435.6,894.3 437.1,894.0 438.6,893.5 440.1,892.9 441.6,892.2 443.1,891.4 444.6,890.4 446.1,889.4 447.6,888.4 449.1,887.2 450.6,886.0 452.1,884.8 453.6,883.5 455.1,882.2 456.6,880.9 458.1,879.6 459.6,878.4 461.1,877.1 462.6,875.9 464.1,874.7 465.6,873.6 467.1,872.5 468.6,871.6 470.1,870.7 471.6,869.9 473.1,869.1 474.6,868.5 476.1,868.0 477.6,867.5 479.1,867.1 480.6,866.7 482.1,866.5 483.6,866.2 485.1,866.1 486.6,866.0 488.1,865.9 489.6,865.9 491.1,865.9 492.6,866.0 494.1,866.1 495.6,866.2 497.1,866.3 498.6,866.5 500.1,866.7 501.6,866.9 503.1,867.1 504.6,867.4 506.1,867.6 507.6,867.8 509.1,868.1 510.6,868.3 512.1,868.5 513.6,868.7 515.1,868.9 516.6,869.1 518.1,869.2 519.6,869.3 521.1,869.4 522.6,869.5 524.1,869.5 525.6,869.5 527.1,869.4 528.6,869.3 530.1,869.1 531.6,868.9 533.1,868.6 534.6,868.3 536.1,868.0 537.6,867.5 539.1,867.1 540.6,866.6 542.1,866.0 543.6,865.5 545.1,864.9 546.6,864.3 548.1,863.7 549.6,863.1 551.1,862.5 552.6,861.9 554.1,861.3 555.6,860.7 557.1,860.2 558.6,859.6 560.1,859.0 561.6,858.5 563.1,858.0 564.6,857.5 566.1,857.1 567.6,856.6 569.1,856.2 570.6,855.8 572.1,855.5 573.6,855.2 575.1,854.9 576.6,854.7 578.1,854.5 579.6,854.3 581.1,854.2 582.6,854.1 584.1,854.1 585.6,854.1 587.1,854.2 588.6,854.4 590.1,854.6 591.6,854.8 593.1,855.1 594.6,855.5 596.1,855.9 597.6,856.4 599.1,857.0 600.6,857.7 602.1,858.4 603.6,859.2 605.1,860.0 606.6,861.0 608.1,862.0 609.6,863.1 611.1,864.3 612.6,865.6 614.1,867.0 615.6,868.4 617.1,870.0 618.6,871.7 620.1,873.4"/>
<path stroke="#EDB120" d="M69.6,1051.4L71.1,1051.1 72.6,1051.0 74.1,1051.2 75.6,1051.5 77.1,1052.0 78.6,1052.7 80.1,1053.6 81.6,1054.5 83.1,1055.6 84.6,1056.7 86.1,1057.9 87.6,1059.2 89.1,1060.4 90.6,1061.7 92.1,1062.9 93.6,1064.1 95.1,1065.2 96.6,1066.3 98.1,1067.1 99.6,1067.9 101.1,1068.4 102.6,1068.7 104.1,1068.7 105.6,1068.4 107.1,1067.7 108.6,1066.7 110.1,1065.3 111.6,1063.5 113.1,1061.3 114.6,1058.7 116.1,1055.8 117.6,1052.6 119.1,1049.1 120.6,1045.4 122.1,1041.5 123.6,1037.4 125.1,1033.1 126.6,1028.7 128.1,1024.2 129.6,1019.6 131.1,1015.0 132.6,1010.2 134.1,1005.4 135.6,1000.5 137.1,995.5 138.6,990.6 140.1,985.7 141.6,980.8 143.1,976.0 144.6,971.2 146.1,966.6 147.6,962.1 149.1,957.6 150.6,953.3 152.1,949.1 153.6,944.9 155.1,940.9 156.6,936.9 158.1,933.0 159.6,929.3 161.1,925.6 162.6,921.9 164.1,918.4 165.6,914.9 167.1,911.5 168.6,908.2 170.1,904.9 171.6,901.7 173.1,898.6 174.6,895.5 176.1,892.5 177.6,889.5 179.1,886.6 180.6,883.7 182.1,880.9 183.6,878.1 185.1,875.4 186.6,872.8 188.1,870.2 189.6,867.6 191.1,865.1 192.6,862.7 194.1,860.4 195.6,858.1 197.1,855.9 198.6,853.8 200.1,851.8 201.6,849.8 203.1,847.9 204.6,846.1 206.1,844.4 207.6,842.8 209.1,841.2 210.6,839.8 212.1,838.4 213.6,837.2 215.1,836.0 216.6,835.0 218.1,834.0 219.6,833.1 221.1,832.4 222.6,831.7 224.1,831.2 225.6,830.7 227.1,830.3 228.6,830.0 230.1,829.8 231.6,829.6 233.1,829.5 234.6,829.5 236.1,829.5 237.6,829.6 239.1,829.7 240.6,829.8 242.1,830.0 243.6,830.3 245.1,830.6 246.6,830.9 248.1,831.2 249.6,831.5 251.1,831.9 252.6,832.3 254.1,832.6 255.6,833.0 257.1,833.4 258.6,833.7 260.1,834.1 261.6,834.4 263.1,834.7 264.6,835.0 266.1,835.3 267.6,835.5 269.1,835.8 270.6,836.0 272.1,836.3 273.6,836.5 275.1,836.8 276.6,837.1 278.1,837.5 279.6,837.9 281.1,838.3 282.6,838.8 284.1,839.3 285.6,840.0 287.1,840.6 288.6,841.4 290.1,842.2 291.6,843.2 293.1,844.1 294.6,845.2 296.1,846.3 297.6,847.4 299.1,848.6 300.6,849.8 302.1,851.1 303.6,852.4 305.1,853.8 306.6,855.1 308.1,856.5 309.6,857.9 311.1,859.3 312.6,860.8 314.1,862.2 315.6,863.7 317.1,865.2 318.6,866.6 320.1,868.1 321.6,869.5 323.1,871.0 324.6,872.4 326.1,873.8 327.6,875.2 329.1,876.6 330.6,877.9 332.1,879.2 333.6,880.5 335.1,881.8 336.6,883.0 338.1,884.2 339.6,885.3 341.1,886.4 342.6,887.5 344.1,888.5 345.6,889.4 347.1,890.3 348.6,891.1 350.1,891.9 351.6,892.6 353.1,893.2 354.6,893.8 356.1,894.2 357.6,894.6 359.1,894.9 360.6,895.2 362.1,895.3 363.6,895.3 365.1,895.3 366.6,895.1 368.1,894.9 369.6,894.6 371.1,894.2 372.6,893.8 374.1,893.3 375.6,892.7 377.1,892.1 378.6,891.4 380.1,890.7 381.6,890.0 383.1,889.2 384.6,888.4 386.1,887.6 387.6,886.8 389.1,886.0 390.6,885.2 392.1,884.4 393.6,883.6 395.1,882.8 396.6,882.0 398.1,881.3 399.6,880.6 401.1,879.9 402.6,879.3 404.1,878.7 405.6,878.1 407.1,877.6 408.6,877.1 410.1,876.6 411.6,876.2 413.1,875.7 414.6,875.3 416.1,875.0 417.6,874.6 419.1,874.3 420.6,874.0 422.1,873.8 423.6,873.5 425.1,873.3 426.6,873.1 428.1,872.9 429.6,872.7 431.1,872.5 432.6,872.4 434.1,872.3 435.6,872.2 437.1,872.1 438.6,872.0 440.1,871.9 441.6,871.8 443.1,871.8 444.6,871.8 446.1,871.7 447.6,871.7 449.1,871.7 450.6,871.7 452.1,871.7 453.6,871.7 455.1,871.7 456.6,871.7 458.1,871.7 459.6,871.8 461.1,871.8 462.6,871.8 464.1,871.9 465.6,872.0 467.1,872.0 468.6,872.1 470.1,872.2 471.6,872.3 473.1,872.4 474.6,872.5 476.1,872.6 477.6,872.7 479.1,872.8 480.6,872.9 482.1,873.0 483.6,873.1 485.1,873.3 486.6,873.4 488.1,873.6 489.6,873.7 491.1,873.9 492.6,874.0 494.1,874.2 495.6,874.3 497.1,874.5 498.6,874.7 500.1,874.8 501.6,875.0 503.1,875.2 504.6,875.4 506.1,875.5 507.6,875.7 509.1,875.9 510.6,876.1 512.1,876.3 513.6,876.5 515.1,876.7 516.6,876.9 518.1,877.1 519.6,877.3 521.1,877.5 522.6,877.7 524.1,877.9 525.6,878.1 527.1,878.3 528.6,878.5 530.1,878.7 531.6,878.9 533.1,879.1 534.6,879.3 536.1,879.5 537.6,879.6 539.1,879.8 540.6,880.0 542.1,880.2 543.6,880.4 545.1,880.6 546.6,880.8 548.1,881.0 549.6,881.2 551.1,881.4 552.6,881.6 554.1,881.7 555.6,881.9 557.1,882.0 558.6,882.2 560.1,882.3 561.6,882.5 563.1,882.6 564.6,882.7 566.1,882.8 567.6,882.8 569.1,882.9 570.6,882.9 572.1,883.0 573.6,883.0 575.1,882.9 576.6,882.9 578.1,882.8 579.6,882.7 581.1,882.6 582.6,882.5 584.1,882.3 585.6,882.1 587.1,881.9 588.6,881.7 590.1,881.4 591.6,881.1 593.1,880.7 594.6,880.4 596.1,880.0 597.6,879.6 599.1,879.2 600.6,878.7 602.1,878.3 603.6,877.9 605.1,877.5 606.6,877.0 608.1,876.6 609.6,876.2 611.1,875.9 612.6,875.5 614.1,875.2 615.6,874.9 617.1,874.6 618.6,874.4 620.1,874.2"/>
<path stroke="#7E2F8E" d="M69.6,1051.4L71.1,1051.0 72.6,1050.9 74.1,1051.1 75.6,1051.6 77.1,1052.3 78.6,1053.1 80.1,1054.1 81.6,1055.2 83.1,1056.3 84.6,1057.5 86.1,1058.7 87.6,1059.8 89.1,1060.9 90.6,1061.8 92.1,1062.6 93.6,1063.2 95.1,1063.6 96.6,1063.8 98.1,1063.8 99.6,1063.6 101.1,1063.1 102.6,1062.3 104.1,1061.3 105.6,1060.1 107.1,1058.6 108.6,1056.8 110.1,1054.7 111.6,1052.3 113.1,1049.6 114.6,1046.7 116.1,1043.5 117.6,1040.1 119.1,1036.5 120.6,1032.7 122.1,1028.9 123.6,1024.8 125.1,1020.7 126.6,1016.3 128.1,1011.8 129.6,1007.2 131.1,1002.4 132.6,997.4 134.1,992.5 135.6,987.4 137.1,982.4 138.6,977.3 140.1,972.3 141.6,967.4 143.1,962.6 144.6,957.9 146.1,953.4 147.6,949.1 149.1,945.0 150.6,941.1 152.1,937.5 153.6,934.1 155.1,931.0 156.6,928.0 158.1,925.2 159.6,922.6 161.1,920.2 162.6,917.9 164.1,915.7 165.6,913.7 167.1,911.8 168.6,910.0 170.1,908.4 171.6,906.8 173.1,905.2 174.6,903.8 176.1,902.4 177.6,901.0 179.1,899.6 180.6,898.3 182.1,897.0 183.6,895.7 185.1,894.4 186.6,893.0 188.1,891.7 189.6,890.3 191.1,888.9 192.6,887.5 194.1,886.1 195.6,884.7 197.1,883.2 198.6,881.7 200.1,880.2 201.6,878.7 203.1,877.2 204.6,875.6 206.1,874.1 207.6,872.5 209.1,870.8 210.6,869.2 212.1,867.5 213.6,865.8 215.1,864.0 216.6,862.2 218.1,860.4 219.6,858.6 221.1,856.7 222.6,854.8 224.1,852.9 225.6,850.9 227.1,848.9 228.6,846.9 230.1,845.0 231.6,843.1 233.1,841.4 234.6,839.7 236.1,838.1 237.6,836.7 239.1,835.4 240.6,834.3 242.1,833.4 243.6,832.7 245.1,832.2 246.6,831.7 248.1,831.5 249.6,831.3 251.1,831.2 252.6,831.2 254.1,831.3 255.6,831.4 257.1,831.5 258.6,831.7 260.1,831.9 261.6,832.1 263.1,832.3 264.6,832.6 266.1,832.8 267.6,833.2 269.1,833.5 270.6,833.9 272.1,834.3 273.6,834.8 275.1,835.4 276.6,836.0 278.1,836.6 279.6,837.3 281.1,838.1 282.6,839.0 284.1,839.9 285.6,841.0 287.1,842.1 288.6,843.2 290.1,844.5 291.6,845.9 293.1,847.4 294.6,848.9 296.1,850.6 297.6,852.3 299.1,854.0 300.6,855.8 302.1,857.6 303.6,859.3 305.1,861.1 306.6,862.8 308.1,864.5 309.6,866.1 311.1,867.7 312.6,869.1 314.1,870.5 315.6,871.7 317.1,872.9 318.6,873.9 320.1,874.9 321.6,875.7 323.1,876.4 324.6,877.0 326.1,877.5 327.6,877.8 329.1,878.1 330.6,878.2 332.1,878.2 333.6,878.1 335.1,878.0 336.6,877.7 338.1,877.4 339.6,877.0 341.1,876.5 342.6,875.9 344.1,875.3 345.6,874.6 347.1,873.9 348.6,873.2 350.1,872.4 351.6,871.5 353.1,870.7 354.6,869.8 356.1,868.9 357.6,868.0 359.1,867.1 360.6,866.2 362.1,865.3 363.6,864.4 365.1,863.5 366.6,862.7 368.1,861.8 369.6,861.0 371.1,860.3 372.6,859.5 374.1,858.8 375.6,858.1 377.1,857.5 378.6,856.9 380.1,856.3 381.6,855.7 383.1,855.1 384.6,854.6 386.1,854.1 387.6,853.6 389.1,853.2 390.6,852.8 392.1,852.3 393.6,851.9 395.1,851.6 396.6,851.2 398.1,850.9 399.6,850.5 401.1,850.2 402.6,850.0 404.1,849.7 405.6,849.5 407.1,849.3 408.6,849.2 410.1,849.1 411.6,849.0 413.1,849.0 414.6,849.1 416.1,849.2 417.6,849.4 419.1,849.6 420.6,849.9 422.1,850.2 423.6,850.6 425.1,851.0 426.6,851.5 428.1,852.0 429.6,852.6 431.1,853.2 432.6,853.8 434.1,854.4 435.6,855.1 437.1,855.8 438.6,856.5 440.1,857.3 441.6,858.0 443.1,858.8 444.6,859.6 446.1,860.3 447.6,861.1 449.1,861.9 450.6,862.7 452.1,863.4 453.6,864.2 455.1,865.0 456.6,865.7 458.1,866.4 459.6,867.2 461.1,867.9 462.6,868.5 464.1,869.2 465.6,869.8 467.1,870.4 468.6,871.0 470.1,871.5 471.6,872.0 473.1,872.5 474.6,872.9 476.1,873.3 477.6,873.7 479.1,874.0 480.6,874.2 482.1,874.5 483.6,874.6 485.1,874.7 486.6,874.8 488.1,874.9 489.6,874.9 491.1,874.8 492.6,874.7 494.1,874.6 495.6,874.4 497.1,874.2 498.6,874.0 500.1,873.7 501.6,873.4 503.1,873.0 504.6,872.7 506.1,872.3 507.6,871.8 509.1,871.4 510.6,870.9 512.1,870.4 513.6,869.9 515.1,869.4 516.6,868.8 518.1,868.3 519.6,867.7 521.1,867.2 522.6,866.6 524.1,866.1 525.6,865.5 527.1,864.9 528.6,864.4 530.1,863.9 531.6,863.3 533.1,862.8 534.6,862.3 536.1,861.9 537.6,861.4 539.1,861.0 540.6,860.6 542.1,860.2 543.6,859.8 545.1,859.5 546.6,859.2 548.1,859.0 549.6,858.7 551.1,858.5 552.6,858.3 554.1,858.1 555.6,858.0 557.1,857.9 558.6,857.8 560.1,857.7 561.6,857.6 563.1,857.6 564.6,857.5 566.1,857.5 567.6,857.6 569.1,857.6 570.6,857.6 572.1,857.7 573.6,857.8 575.1,857.9 576.6,858.0 578.1,858.1 579.6,858.2 581.1,858.3 582.6,858.5 584.1,858.6 585.6,858.8 587.1,859.0 588.6,859.2 590.1,859.4 591.6,859.6 593.1,859.8 594.6,860.0 596.1,860.2 597.6,860.4 599.1,860.6 600.6,860.9 602.1,861.1 603.6,861.3 605.1,861.6 606.6,861.8 608.1,862.0 609.6,862.2 611.1,862.5 612.6,862.7 614.1,862.9 615.6,863.1 617.1,863.3 618.6,863.5 620.1,863.7 621.6,863.9 623.1,864.1 623.6,864.1"/>
<path stroke="#77AC30" d="M69.6,1051.1L71.1,1051.1 72.6,1051.2 74.1,1051.5 75.6,1052.0 77.1,1052.5 78.6,1053.2 80.1,1053.9 81.6,1054.8 83.1,1055.6 84.6,1056.5 86.1,1057.4 87.6,1058.3 89.1,1059.2 90.6,1060.1 92.1,1060.9 93.6,1061.7 95.1,1062.3 96.6,1062.9 98.1,1063.3 99.6,1063.7 101.1,1063.8 102.6,1063.8 104.1,1063.6 105.6,1063.2 107.1,1062.5 108.6,1061.7 110.1,1060.6 111.6,1059.2 113.1,1057.7 114.6,1055.9 116.1,1054.0 117.6,1051.9 119.1,1049.6 120.6,1047.2 122.1,1044.6 123.6,1041.9 125.1,1039.1 126.6,1036.3 128.1,1033.3 129.6,1030.3 131.1,1027.2 132.6,1024.0 134.1,1020.9 135.6,1017.6 137.1,1014.4 138.6,1011.1 140.1,1007.7 141.6,1004.3 143.1,1000.9 144.6,997.5 146.1,994.0 147.6,990.5 149.1,987.0 150.6,983.4 152.1,979.8 153.6,976.2 155.1,972.6 156.6,969.0 158.1,965.4 159.6,961.7 161.1,958.1 162.6,954.4 164.1,950.7 165.6,947.1 167.1,943.4 168.6,939.7 170.1,936.1 171.6,932.5 173.1,928.9 174.6,925.3 176.1,921.8 177.6,918.4 179.1,915.0 180.6,911.8 182.1,908.6 183.6,905.4 185.1,902.4 186.6,899.4 188.1,896.6 189.6,893.8 191.1,891.1 192.6,888.5 194.1,886.0 195.6,883.6 197.1,881.3 198.6,879.0 200.1,876.8 201.6,874.7 203.1,872.7 204.6,870.7 206.1,868.8 207.6,867.0 209.1,865.2 210.6,863.5 212.1,861.8 213.6,860.2 215.1,858.6 216.6,857.0 218.1,855.5 219.6,854.0 221.1,852.5 222.6,851.1 224.1,849.7 225.6,848.4 227.1,847.1 228.6,845.8 230.1,844.7 231.6,843.6 233.1,842.7 234.6,841.8 236.1,841.1 237.6,840.4 239.1,839.9 240.6,839.4 242.1,839.0 243.6,838.6 245.1,838.3 246.6,838.1 248.1,837.9 249.6,837.7 251.1,837.6 252.6,837.5 254.1,837.4 255.6,837.3 257.1,837.2 258.6,837.2 260.1,837.2 261.6,837.1 263.1,837.1 264.6,837.1 266.1,837.2 267.6,837.2 269.1,837.2 270.6,837.3 272.1,837.4 273.6,837.5 275.1,837.6 276.6,837.7 278.1,837.8 279.6,838.0 281.1,838.1 282.6,838.3 284.1,838.5 285.6,838.7 287.1,838.9 288.6,839.1 290.1,839.4 291.6,839.6 293.1,839.9 294.6,840.2 296.1,840.4 297.6,840.7 299.1,841.1 300.6,841.4 302.1,841.7 303.6,842.1 305.1,842.4 306.6,842.8 308.1,843.2 309.6,843.6 311.1,844.0 312.6,844.5 314.1,844.9 315.6,845.4 317.1,845.9 318.6,846.4 320.1,846.9 321.6,847.5 323.1,848.1 324.6,848.7 326.1,849.3 327.6,849.9 329.1,850.6 330.6,851.3 332.1,852.0 333.6,852.7 335.1,853.5 336.6,854.2 338.1,855.0 339.6,855.8 341.1,856.6 342.6,857.4 344.1,858.1 345.6,858.9 347.1,859.6 348.6,860.2 350.1,860.9 351.6,861.4 353.1,862.0 354.6,862.4 356.1,862.8 357.6,863.2 359.1,863.5 360.6,863.8 362.1,864.1 363.6,864.3 365.1,864.5 366.6,864.6 368.1,864.7 369.6,864.8 371.1,864.9 372.6,865.0 374.1,865.0 375.6,865.0 377.1,865.1 378.6,865.1 380.1,865.1 381.6,865.0 383.1,865.0 384.6,865.0 386.1,864.9 387.6,864.9 389.1,864.8 390.6,864.7 392.1,864.6 393.6,864.5 395.1,864.4 396.6,864.3 398.1,864.1 399.6,864.0 401.1,863.8 402.6,863.6 404.1,863.4 405.6,863.2 407.1,863.0 408.6,862.8 410.1,862.6 411.6,862.3 413.1,862.0 414.6,861.8 416.1,861.5 417.6,861.2 419.1,860.9 420.6,860.5 422.1,860.2 423.6,859.8 425.1,859.5 426.6,859.1 428.1,858.7 429.6,858.4 431.1,858.0 432.6,857.6 434.1,857.3 435.6,856.9 437.1,856.5 438.6,856.2 440.1,855.8 441.6,855.5 443.1,855.2 444.6,854.9 446.1,854.7 447.6,854.4 449.1,854.2 450.6,854.0 452.1,853.8 453.6,853.7 455.1,853.6 456.6,853.5 458.1,853.4 459.6,853.4 461.1,853.4 462.6,853.5 464.1,853.6 465.6,853.8 467.1,854.0 468.6,854.2 470.1,854.4 471.6,854.7 473.1,855.0 474.6,855.4 476.1,855.7 477.6,856.1 479.1,856.5 480.6,857.0 482.1,857.4 483.6,857.9 485.1,858.3 486.6,858.8 488.1,859.3 489.6,859.8 491.1,860.2 492.6,860.7 494.1,861.2 495.6,861.7 497.1,862.2 498.6,862.6 500.1,863.1 501.6,863.5 503.1,864.0 504.6,864.4 506.1,864.8 507.6,865.2 509.1,865.5 510.6,865.9 512.1,866.2 513.6,866.4 515.1,866.7 516.6,866.9 518.1,867.1 519.6,867.3 521.1,867.4 522.6,867.5 524.1,867.6 525.6,867.7 527.1,867.8 528.6,867.8 530.1,867.8 531.6,867.8 533.1,867.8 534.6,867.8 536.1,867.8 537.6,867.7 539.1,867.6 540.6,867.6 542.1,867.5 543.6,867.4 545.1,867.3 546.6,867.2 548.1,867.0 549.6,866.9 551.1,866.8 552.6,866.6 554.1,866.5 555.6,866.4 557.1,866.2 558.6,866.1 560.1,865.9 561.6,865.8 563.1,865.7 564.6,865.6 566.1,865.4 567.6,865.3 569.1,865.2 570.6,865.2 572.1,865.1 573.6,865.0 575.1,865.0 576.6,865.0 578.1,865.0 579.6,865.1 581.1,865.1 582.6,865.2 584.1,865.3 585.6,865.5 587.1,865.7 588.6,865.9 590.1,866.2 591.6,866.5 593.1,866.8 594.6,867.2 596.1,867.6 597.6,868.1 599.1,868.6 600.6,869.2 602.1,869.8 603.6,870.5 605.1,871.1 606.6,871.8 608.1,872.5 609.6,873.3 611.1,874.0 612.6,874.7 614.1,875.4 615.6,876.0 617.1,876.6 618.6,877.2 619.0,877.3"/>
</g>
<text x="256.5" y="1202.5" font-family="Liberation Serif, Times New Roman, serif" font-size="28.5" fill="#111">(b) Direct lift control</text>
</svg></body></html>
